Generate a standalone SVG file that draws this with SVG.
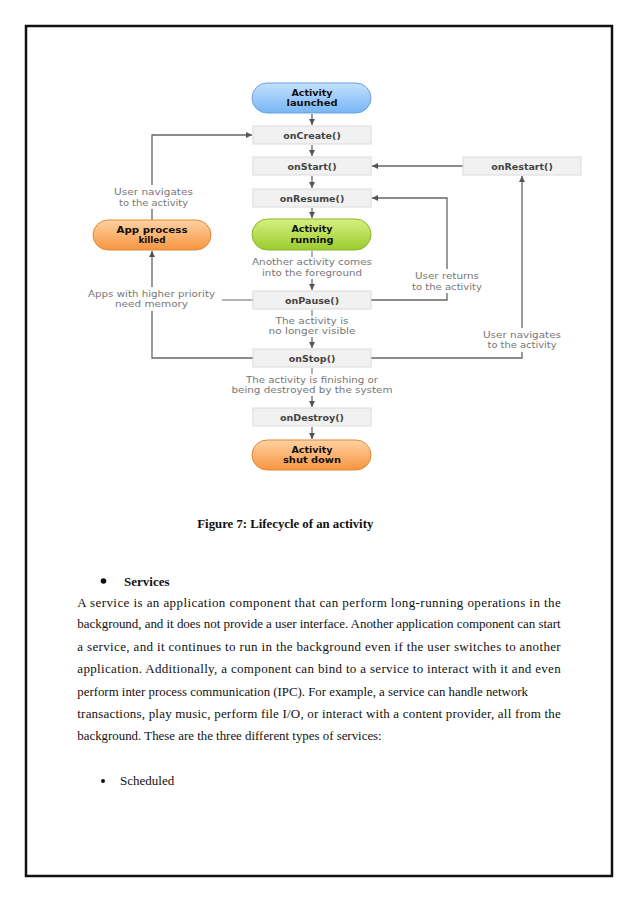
<svg xmlns="http://www.w3.org/2000/svg" width="638" height="902" viewBox="0 0 638 902">
<defs>
<linearGradient id="gBlue" x1="0" y1="0" x2="0" y2="1"><stop offset="0" stop-color="#c4e0ff"/><stop offset="1" stop-color="#78b6f4"/></linearGradient>
<linearGradient id="gGreen" x1="0" y1="0" x2="0" y2="1"><stop offset="0" stop-color="#d6f07e"/><stop offset="1" stop-color="#9ccb30"/></linearGradient>
<linearGradient id="gOrange" x1="0" y1="0" x2="0" y2="1"><stop offset="0" stop-color="#ffd2a4"/><stop offset="1" stop-color="#f7953f"/></linearGradient>
<marker id="ah" viewBox="0 0 10 10" refX="10" refY="5" markerWidth="6" markerHeight="6" markerUnits="userSpaceOnUse" orient="auto"><path d="M0,0 L10,5 L0,10 z" fill="#555"/></marker>
<style>
.box{fill:#f1f1f1;stroke:#dadada;stroke-width:1}
.btxt{font-family:"DejaVu Sans",sans-serif;font-size:9.5px;font-weight:bold;fill:#444;text-anchor:middle}
.ptxt{font-family:"DejaVu Sans",sans-serif;font-size:8.8px;font-weight:bold;fill:#111;text-anchor:middle}
.lbl{font-family:"DejaVu Sans",sans-serif;font-size:8.8px;fill:#777;text-anchor:middle}
.ln{fill:none;stroke:#888;stroke-width:1.3}
.arr{fill:none;stroke:#666;stroke-width:1.3;marker-end:url(#ah)}
.body{font-family:"Liberation Serif","Times New Roman",serif;font-size:13px;fill:#111}
.bold{font-weight:bold}
</style>
</defs>
<rect width="638" height="902" fill="#fff"/>
<rect x="26" y="26" width="586" height="850" fill="none" stroke="#111" stroke-width="2.5"/>

<g id="connectors">
<line class="arr" x1="312" y1="114" x2="312" y2="125"/>
<line class="arr" x1="312" y1="145" x2="312" y2="156"/>
<line class="arr" x1="312" y1="176" x2="312" y2="188"/>
<line class="arr" x1="312" y1="208" x2="312" y2="218"/>
<line class="ln" x1="312" y1="251" x2="312" y2="257"/>
<line class="arr" x1="312" y1="279" x2="312" y2="290"/>
<line class="ln" x1="312" y1="310" x2="312" y2="316"/>
<line class="arr" x1="312" y1="337" x2="312" y2="348"/>
<line class="ln" x1="312" y1="368" x2="312" y2="374"/>
<line class="arr" x1="312" y1="396" x2="312" y2="407"/>
<line class="arr" x1="312" y1="427" x2="312" y2="439"/>
<polyline class="arr" points="253,358 152,358 152,251"/>
<line class="ln" x1="253" y1="300" x2="222" y2="300"/>
<polyline class="arr" points="152,220 152,135 252,135"/>
<line class="arr" x1="463" y1="166" x2="372" y2="166"/>
<polyline class="arr" points="371,358 522,358 522,176"/>
<polyline class="arr" points="371,300 447,300 447,198 372,198"/>
</g>

<g id="lbl-user-nav-left">
<rect x="110" y="185" width="88" height="24" fill="#fff"/>
<text class="lbl" x="153.5" y="195.4" textLength="79" lengthAdjust="spacingAndGlyphs">User navigates</text>
<text class="lbl" x="153.5" y="205.9" textLength="69" lengthAdjust="spacingAndGlyphs">to the activity</text>
</g>
<g id="lbl-apps-priority">
<rect x="86" y="287" width="134" height="24" fill="#fff"/>
<text class="lbl" x="151.5" y="296.9" textLength="127" lengthAdjust="spacingAndGlyphs">Apps with higher priority</text>
<text class="lbl" x="151.5" y="307.4" textLength="73" lengthAdjust="spacingAndGlyphs">need memory</text>
</g>
<g id="lbl-user-returns">
<rect x="410" y="269" width="76" height="24" fill="#fff"/>
<text class="lbl" x="447" y="279.4" textLength="64" lengthAdjust="spacingAndGlyphs">User returns</text>
<text class="lbl" x="447" y="289.9" textLength="70" lengthAdjust="spacingAndGlyphs">to the activity</text>
</g>
<g id="lbl-user-nav-right">
<rect x="478" y="328" width="88" height="24" fill="#fff"/>
<text class="lbl" x="522" y="337.9" textLength="78" lengthAdjust="spacingAndGlyphs">User navigates</text>
<text class="lbl" x="522" y="348.4" textLength="69" lengthAdjust="spacingAndGlyphs">to the activity</text>
</g>
<g id="lbl-another">
<text class="lbl" x="312" y="265.4" textLength="120" lengthAdjust="spacingAndGlyphs">Another activity comes</text>
<text class="lbl" x="312" y="275.9" textLength="100" lengthAdjust="spacingAndGlyphs">into the foreground</text>
</g>
<g id="lbl-not-visible">
<text class="lbl" x="312" y="323.9" textLength="73" lengthAdjust="spacingAndGlyphs">The activity is</text>
<text class="lbl" x="312" y="334.4" textLength="87" lengthAdjust="spacingAndGlyphs">no longer visible</text>
</g>
<g id="lbl-finishing">
<text class="lbl" x="312" y="382.9" textLength="132" lengthAdjust="spacingAndGlyphs">The activity is finishing or</text>
<text class="lbl" x="312" y="393.4" textLength="161" lengthAdjust="spacingAndGlyphs">being destroyed by the system</text>
</g>

<g id="activity-launched">
<rect x="252" y="83" width="119" height="30" rx="15" fill="url(#gBlue)" stroke="#6aa3dc"/>
<text class="ptxt" x="312" y="95.9" textLength="41" lengthAdjust="spacingAndGlyphs">Activity</text>
<text class="ptxt" x="312" y="106.4" textLength="51" lengthAdjust="spacingAndGlyphs">launched</text>
</g>
<g id="onCreate"><rect class="box" x="253" y="126" width="118" height="18"/><text class="btxt" x="312" y="138.5">onCreate()</text></g>
<g id="onStart"><rect class="box" x="253" y="157" width="118" height="18"/><text class="btxt" x="312" y="169.5">onStart()</text></g>
<g id="onResume"><rect class="box" x="253" y="189" width="118" height="18"/><text class="btxt" x="312" y="201.5">onResume()</text></g>
<g id="onRestart"><rect class="box" x="463" y="157" width="118" height="18"/><text class="btxt" x="522" y="169.5">onRestart()</text></g>
<g id="activity-running">
<rect x="252" y="219" width="119" height="31" rx="15.5" fill="url(#gGreen)" stroke="#8ab52c"/>
<text class="ptxt" x="312" y="232.4" textLength="41" lengthAdjust="spacingAndGlyphs">Activity</text>
<text class="ptxt" x="312" y="242.9" textLength="43" lengthAdjust="spacingAndGlyphs">running</text>
</g>
<g id="app-process-killed">
<rect x="93" y="220" width="118" height="30" rx="15" fill="url(#gOrange)" stroke="#e0883a"/>
<text class="ptxt" x="152" y="232.9" textLength="71" lengthAdjust="spacingAndGlyphs">App process</text>
<text class="ptxt" x="152" y="243.4">killed</text>
</g>
<g id="onPause"><rect class="box" x="253" y="291" width="118" height="18"/><text class="btxt" x="312" y="303.5">onPause()</text></g>
<g id="onStop"><rect class="box" x="253" y="349" width="118" height="18"/><text class="btxt" x="312" y="361.5">onStop()</text></g>
<g id="onDestroy"><rect class="box" x="253" y="408" width="118" height="18"/><text class="btxt" x="312" y="420.5">onDestroy()</text></g>
<g id="activity-shut-down">
<rect x="252" y="440" width="119" height="30" rx="15" fill="url(#gOrange)" stroke="#e0883a"/>
<text class="ptxt" x="312" y="452.9" textLength="41" lengthAdjust="spacingAndGlyphs">Activity</text>
<text class="ptxt" x="312" y="463.4" textLength="58" lengthAdjust="spacingAndGlyphs">shut down</text>
</g>

<g id="text">
<text class="body bold" x="197.3" y="528" textLength="176" lengthAdjust="spacingAndGlyphs">Figure 7: Lifecycle of an activity</text>
<circle cx="103.5" cy="581" r="2.8" fill="#111"/>
<text class="body bold" x="124" y="585.5">Services</text>
<text class="body" x="77.3" y="606.5" textLength="483.4" lengthAdjust="spacing">A service is an application component that can perform long-running operations in the</text>
<text class="body" x="77.3" y="628" textLength="483.4" lengthAdjust="spacing">background, and it does not provide a user interface. Another application component can start</text>
<text class="body" x="77.3" y="650.5" textLength="483.4" lengthAdjust="spacing">a service, and it continues to run in the background even if the user switches to another</text>
<text class="body" x="77.3" y="673" textLength="483.4" lengthAdjust="spacing">application. Additionally, a component can bind to a service to interact with it and even</text>
<text class="body" x="77.3" y="695.5" textLength="450.7" lengthAdjust="spacingAndGlyphs">perform inter process communication (IPC). For example, a service can handle network</text>
<text class="body" x="77.3" y="718" textLength="483.4" lengthAdjust="spacing">transactions, play music, perform file I/O, or interact with a content provider, all from the</text>
<text class="body" x="77.3" y="740" textLength="304.4" lengthAdjust="spacingAndGlyphs">background. These are the three different types of services:</text>
<circle cx="103" cy="781" r="2" fill="#111"/>
<text class="body" x="120" y="785">Scheduled</text>
</g>
</svg>
